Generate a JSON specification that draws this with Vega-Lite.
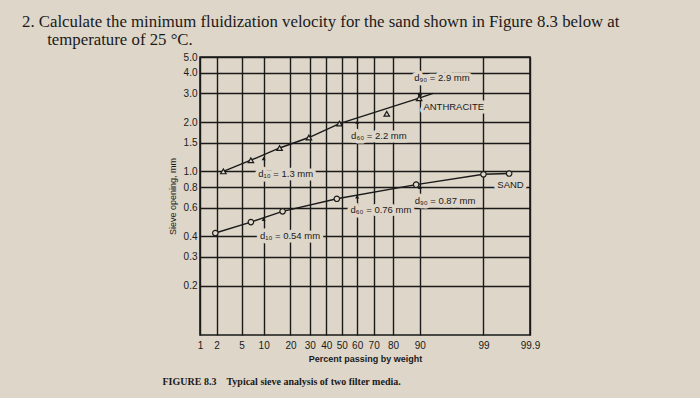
{
  "$schema": "https://vega.github.io/schema/vega-lite/v6.json",
  "width": 330,
  "height": 278,
  "autosize": "none",
  "padding": {"left": 200, "top": 57, "right": 170, "bottom": 63},
  "background": "#ded6c9",
  "config": {
    "view": {"stroke": "#1a1a1a", "strokeWidth": 1.6},
    "font": "Liberation Sans"
  },
  "title": {
    "text": ["2. Calculate the minimum fluidization velocity for the sand shown in Figure 8.3 below at", "\u200b\u00a0\u00a0\u00a0\u00a0\u00a0\u00a0temperature of 25 °C."],
    "anchor": "start",
    "frame": "group",
    "dx": -178,
    "offset": 3,
    "font": "Liberation Serif",
    "fontSize": 16.8,
    "fontWeight": "normal",
    "lineHeight": 18,
    "color": "#1a1a1a"
  },
  "datasets": {
    "points": [
      {"material": "Anthracite", "percent": 2.6, "mm": 1.0},
      {"material": "Anthracite", "percent": 6.8, "mm": 1.17},
      {"material": "Anthracite", "percent": 15.4, "mm": 1.39},
      {"material": "Anthracite", "percent": 29.5, "mm": 1.61},
      {"material": "Anthracite", "percent": 48.5, "mm": 1.96},
      {"material": "Anthracite", "percent": 77, "mm": 2.25},
      {"material": "Anthracite", "percent": 89.8, "mm": 2.8},
      {"material": "Sand", "percent": 1.9, "mm": 0.42},
      {"material": "Sand", "percent": 6.8, "mm": 0.49},
      {"material": "Sand", "percent": 16.6, "mm": 0.57},
      {"material": "Sand", "percent": 46.8, "mm": 0.68},
      {"material": "Sand", "percent": 88.9, "mm": 0.83},
      {"material": "Sand", "percent": 99, "mm": 0.96},
      {"material": "Sand", "percent": 99.7, "mm": 0.97}
    ],
    "curves": [
      {"material": "Anthracite", "percent": 2.6, "mm": 1.0},
      {"material": "Anthracite", "percent": 6.8, "mm": 1.17},
      {"material": "Anthracite", "percent": 15.4, "mm": 1.39},
      {"material": "Anthracite", "percent": 29.5, "mm": 1.61},
      {"material": "Anthracite", "percent": 48.5, "mm": 1.96},
      {"material": "Anthracite", "percent": 89.8, "mm": 2.8},
      {"material": "Anthracite", "percent": 93.3, "mm": 3.0},
      {"material": "Sand", "percent": 1.9, "mm": 0.42},
      {"material": "Sand", "percent": 6.8, "mm": 0.49},
      {"material": "Sand", "percent": 16.6, "mm": 0.57},
      {"material": "Sand", "percent": 46.8, "mm": 0.68},
      {"material": "Sand", "percent": 88.9, "mm": 0.83},
      {"material": "Sand", "percent": 99, "mm": 0.96},
      {"material": "Sand", "percent": 99.7, "mm": 0.97}
    ],
    "labels": [
      {"text": "d₁₀ = 1.3 mm", "percent": 17.9, "mm": 0.97},
      {"text": "d₆₀ = 2.2 mm", "percent": 72.9, "mm": 1.64},
      {"text": "d₉₀ = 2.9 mm", "percent": 95, "mm": 3.7},
      {"text": "ANTHRACITE", "percent": 96.7, "mm": 2.48},
      {"text": "SAND", "percent": 99.72, "mm": 0.83},
      {"text": "d₁₀ = 0.54 mm", "percent": 19.8, "mm": 0.4},
      {"text": "d₆₀ = 0.76 mm", "percent": 74, "mm": 0.58},
      {"text": "d₉₀ = 0.87 mm", "percent": 95.5, "mm": 0.66}
    ],
    "arrows": [
      {"percent": 10, "mm": 1.2, "dir": "up"},
      {"percent": 60, "mm": 2.0, "dir": "up"},
      {"percent": 90, "mm": 2.95, "dir": "down"},
      {"percent": 10, "mm": 0.51, "dir": "up"},
      {"percent": 60, "mm": 0.7, "dir": "up"},
      {"percent": 90, "mm": 0.8, "dir": "up"}
    ]
  },
  "resolve": {"axis": {"y": "independent"}},
  "encoding": {
    "x": {
      "field": "z",
      "type": "quantitative",
      "scale": {"domain": [-2.3263, 3.0902], "nice": false, "zero": false},
      "axis": {
        "values": [-2.3263, -2.0537, -1.6449, -1.2816, -0.8416, -0.5244, -0.2533, 0, 0.2533, 0.5244, 0.8416, 1.2816, 2.3263, 3.0902],
        "labelExpr": "toString(round(cumulativeNormal(datum.value) * 1000) / 10)",
        "labelOverlap": false,
        "labelFlush": false,
        "labelFontSize": 10,
        "labelColor": "#1a1a1a",
        "labelPadding": 5,
        "ticks": false,
        "domain": false,
        "grid": true,
        "gridColor": "#1a1a1a",
        "gridWidth": 1.4,
        "gridOpacity": 1,
        "title": "Percent passing by weight",
        "titleFontSize": 9,
        "titleFontWeight": "bold",
        "titleColor": "#1a1a1a",
        "titlePadding": 4
      }
    }
  },
  "layer": [
    {
      "data": {"name": "curves"},
      "transform": [{"calculate": "quantileNormal(datum.percent / 100)", "as": "z"}],
      "mark": {"type": "line", "color": "#1a1a1a", "strokeWidth": 1.4},
      "encoding": {
        "detail": {"field": "material", "type": "nominal"},
        "y": {
          "field": "mm",
          "type": "quantitative",
          "scale": {"type": "log", "domain": [0.1, 5], "nice": false},
          "axis": {
            "orient": "left",
            "values": [0.2, 0.3, 0.4, 0.6, 0.8, 1, 1.5, 2, 3, 4, 5],
            "format": ".1f",
            "labelFontSize": 10,
            "labelColor": "#1a1a1a",
            "labelPadding": 3,
            "ticks": false,
            "domain": false,
            "grid": true,
            "gridColor": "#1a1a1a",
            "gridWidth": 1.4,
            "gridOpacity": 1,
            "title": "Sieve opening, mm",
            "titleFontSize": 9,
            "titleFontWeight": "normal",
            "titleColor": "#1a1a1a",
            "titlePadding": 6
          }
        }
      }
    },
    {
      "data": {"name": "points"},
      "transform": [{"calculate": "quantileNormal(datum.percent / 100)", "as": "z"}],
      "mark": {"type": "point", "filled": true, "fill": "#ded6c9", "stroke": "#1a1a1a", "strokeWidth": 1.2, "size": 30, "opacity": 1},
      "encoding": {
        "y": {"field": "mm", "type": "quantitative", "axis": null},
        "shape": {"field": "material", "type": "nominal", "scale": {"domain": ["Anthracite", "Sand"], "range": ["triangle-up", "circle"]}, "legend": null}
      }
    },
    {
      "data": {"name": "arrows"},
      "transform": [{"calculate": "quantileNormal(datum.percent / 100)", "as": "z"}],
      "mark": {"type": "point", "filled": true, "color": "#1a1a1a", "size": 16, "opacity": 1},
      "encoding": {
        "y": {"field": "mm", "type": "quantitative", "axis": null},
        "shape": {"field": "dir", "type": "nominal", "scale": {"domain": ["up", "down"], "range": ["triangle-up", "triangle-down"]}, "legend": null}
      }
    },
    {
      "data": {"name": "labels"},
      "transform": [{"calculate": "quantileNormal(datum.percent / 100)", "as": "z"}],
      "mark": {"type": "text", "font": "Liberation Sans", "fontSize": 9.5, "fill": "#ded6c9", "stroke": "#ded6c9", "strokeWidth": 7, "strokeJoin": "round", "align": "center", "baseline": "middle"},
      "encoding": {
        "y": {"field": "mm", "type": "quantitative", "axis": null},
        "text": {"field": "text", "type": "nominal"}
      }
    },
    {
      "data": {"name": "labels"},
      "transform": [{"calculate": "quantileNormal(datum.percent / 100)", "as": "z"}],
      "mark": {"type": "text", "font": "Liberation Sans", "fontSize": 9.5, "color": "#1a1a1a", "align": "center", "baseline": "middle"},
      "encoding": {
        "y": {"field": "mm", "type": "quantitative", "axis": null},
        "text": {"field": "text", "type": "nominal"}
      }
    },
    {
      "data": {"name": "curves"},
      "transform": [{"calculate": "quantileNormal(datum.percent / 100)", "as": "z"}],
      "mark": {"type": "point", "opacity": 0},
      "encoding": {
        "y": {
          "field": "mm",
          "type": "quantitative",
          "axis": {
            "orient": "right",
            "labels": false,
            "ticks": false,
            "domain": false,
            "grid": false,
            "title": "FIGURE 8.3\u00a0\u00a0\u00a0\u00a0Typical sieve analysis of two filter media.",
            "titleFont": "Liberation Serif",
            "titleFontSize": 10,
            "titleFontWeight": "bold",
            "titleColor": "#1a1a1a",
            "titleAngle": 0,
            "titleAlign": "left",
            "titleBaseline": "middle",
            "titleX": -368,
            "titleY": 324
          }
        }
      }
    }
  ]
}
